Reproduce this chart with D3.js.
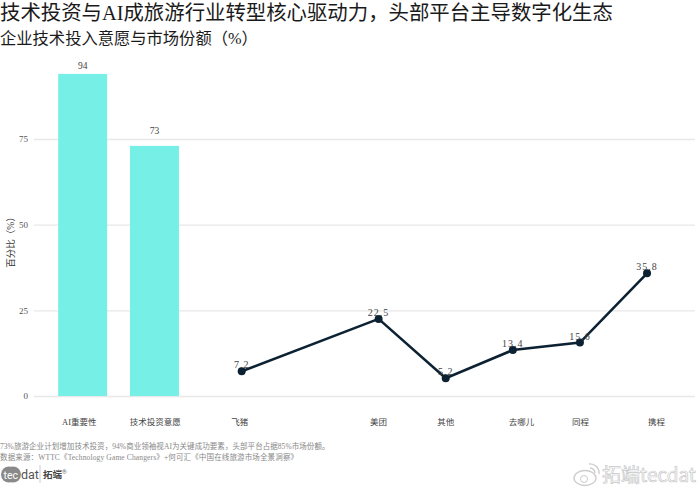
<!DOCTYPE html>
<html>
<head>
<meta charset="utf-8">
<script src="https://cdn.jsdelivr.net/npm/d3@7"></script>
<style>
  html, body { margin: 0; padding: 0; background: #fff; }
  svg { display: block; }
  text { font-family: "Liberation Serif", "Noto Sans CJK SC", serif; }
</style>
</head>
<body>
<svg id="body" width="700" height="490"></svg>
<script>
// bars
const barNames = ["AI重要性", "技术投资意愿"];
const barValues = [94, 73];
const barSlots = [-0.41, 0.66];
const barNameSlots = [-0.46, 0.67];
// market share line
const lineNames = ["飞猪", "美团", "其他", "去哪儿", "同程", "携程"];
const lineValues = [7.2, 22.5, 5.2, 13.4, 15.6, 35.8];
const lineLabels = ["7.2", "22.5", "5.2", "13.4", "15.6", "35.8"];
const lineSlots = [1.96, 4, 5, 6, 7, 8];
const lineNameSlots = [1.93, 4, 5, 6.13, 7.01, 8.14];
const yTicks = [0, 25, 50, 75];
const barWidthSlots = 0.73;

const titleText = "技术投资与AI成旅游行业转型核心驱动力，头部平台主导数字化生态";
const subtitleText = "企业技术投入意愿与市场份额（%）";
const yTitle = "百分比（%）";
const noteLines = [
  "73%旅游企业计划增加技术投资，94%商业领袖视AI为关键成功要素，头部平台占据85%市场份额。",
  "数据来源：WTTC《Technology Game Changers》+何可汇《中国在线旅游市场全景洞察》"
];

const svg = d3.select("#body");
const x = d3.scaleLinear().domain([-1.15, 8.7]).range([33, 694]);
const y = d3.scaleLinear().domain([0, 75]).range([396, 139]);

svg.append("text").attr("x", 0).attr("y", 20).attr("font-size", 20.4).attr("fill", "#1a1a1a").text(titleText);
svg.append("text").attr("x", 0).attr("y", 44).attr("font-size", 16.3).attr("fill", "#1a1a1a").text(subtitleText);

// grid + y axis
const yAxis = svg.append("g")
  .attr("transform", "translate(34,0)")
  .call(d3.axisLeft(y).tickValues(yTicks).tickSize(-661).tickPadding(6));
yAxis.select(".domain").remove();
yAxis.selectAll("line").attr("stroke", "#e8e8e8").attr("stroke-width", 1.3);
yAxis.selectAll("text").attr("font-size", 9).attr("fill", "#555").style("font-family", "Liberation Serif");

svg.append("text")
  .attr("transform", "translate(14,240) rotate(-90)")
  .attr("text-anchor", "middle").attr("font-size", 9.5).attr("fill", "#333")
  .text(yTitle);

// bars
const bars = barNames.map((n, i) => ({ name: n, value: barValues[i], slot: barSlots[i], nameSlot: barNameSlots[i] }));
const barW = x(barWidthSlots) - x(0);
svg.selectAll("rect.bar").data(bars).enter().append("rect")
  .attr("class", "bar")
  .attr("x", d => x(d.slot) - barW / 2)
  .attr("y", d => y(d.value))
  .attr("width", barW)
  .attr("height", d => y(0) - y(d.value))
  .attr("fill", "#76f0e6");
// the two value labels do not sit the same distance above their bars
svg.selectAll("text.barval").data(bars).enter().append("text")
  .attr("class", "barval")
  .attr("x", d => x(d.slot))
  .attr("y", (d, i) => y(d.value) - (i === 0 ? 5 : 12))
  .attr("text-anchor", "middle").attr("font-size", 9.5).attr("fill", "#444")
  .text(d => d.value);

// line
const points = lineNames.map((n, i) => ({ name: n, value: lineValues[i], label: lineLabels[i], slot: lineSlots[i], nameSlot: lineNameSlots[i] }));
const lineGen = d3.line().x(d => x(d.slot)).y(d => y(d.value));
svg.append("path").datum(points)
  .attr("d", lineGen).attr("fill", "none")
  .attr("stroke", "#0c2233").attr("stroke-width", 2.6);
svg.selectAll("circle.pt").data(points).enter().append("circle")
  .attr("class", "pt")
  .attr("cx", d => x(d.slot)).attr("cy", d => y(d.value)).attr("r", 4)
  .attr("fill", "#0c2233");
svg.selectAll("text.ptval").data(points).enter().append("text")
  .attr("class", "ptval")
  .attr("x", d => x(d.slot))
  .attr("y", d => y(d.value) - 3)
  .attr("text-anchor", "middle").attr("font-size", 10).attr("letter-spacing", 1).attr("fill", "#444")
  .text(d => d.label);

// category labels
const cats = bars.concat(points);
svg.selectAll("text.cat").data(cats).enter().append("text")
  .attr("class", "cat")
  .attr("x", d => x(d.nameSlot))
  .attr("y", 425)
  .attr("text-anchor", "middle").attr("font-size", 8.5).attr("fill", "#444")
  .text(d => d.name);

// notes
svg.selectAll("text.note").data(noteLines).enter().append("text")
  .attr("class", "note")
  .attr("x", 0).attr("y", (d, i) => 449 + i * 11)
  .attr("font-size", 7.5).attr("letter-spacing", (d, i) => i === 0 ? 0.06 : 0.14).attr("fill", "#888")
  .text(d => d);

// logo
const logo = svg.append("g");
logo.append("circle").attr("cx", 9).attr("cy", 474.5).attr("r", 8).attr("fill", "#8a8a8a");
logo.append("circle").attr("cx", 13).attr("cy", 474.5).attr("r", 8).attr("fill", "#8a8a8a");
logo.append("text").attr("x", 3.5).attr("y", 478.5).attr("font-size", 10.5).attr("fill", "#fff").style("font-family", "Roboto").text("tec");
logo.append("text").attr("x", 21).attr("y", 479).attr("font-size", 12.5).attr("fill", "#555").style("font-family", "Roboto").text("dat");
logo.append("line").attr("x1", 40).attr("x2", 40).attr("y1", 465).attr("y2", 483).attr("stroke", "#ccc");
logo.append("text").attr("x", 43).attr("y", 478).attr("font-size", 9.5).attr("font-weight", 700).attr("fill", "#444").style("font-family", "Noto Sans CJK SC").text("拓端");
logo.append("text").attr("x", 62).attr("y", 474).attr("font-size", 6).attr("fill", "#666").style("font-family", "Roboto").text("®");

// watermark
const wm = svg.append("g");
wm.append("ellipse").attr("cx", 585).attr("cy", 478).attr("rx", 11).attr("ry", 7.5).attr("fill", "none").attr("stroke", "#ccc").attr("stroke-width", 1.3);
wm.append("circle").attr("cx", 584).attr("cy", 479).attr("r", 3.5).attr("fill", "none").attr("stroke", "#ccc");
wm.append("path").attr("d", "M589 464 a9 9 0 0 1 10 10 M590 468 a5 5 0 0 1 5 5").attr("fill", "none").attr("stroke", "#ccc").attr("stroke-width", 1.3);
wm.append("text").attr("x", 602).attr("y", 482).attr("font-size", 19)
  .attr("fill", "#fff").attr("stroke", "#c8c8c8").attr("stroke-width", 0.7)
  .style("font-family", "Noto Sans CJK SC").text("拓端tecdat");
</script>
</body>
</html>
